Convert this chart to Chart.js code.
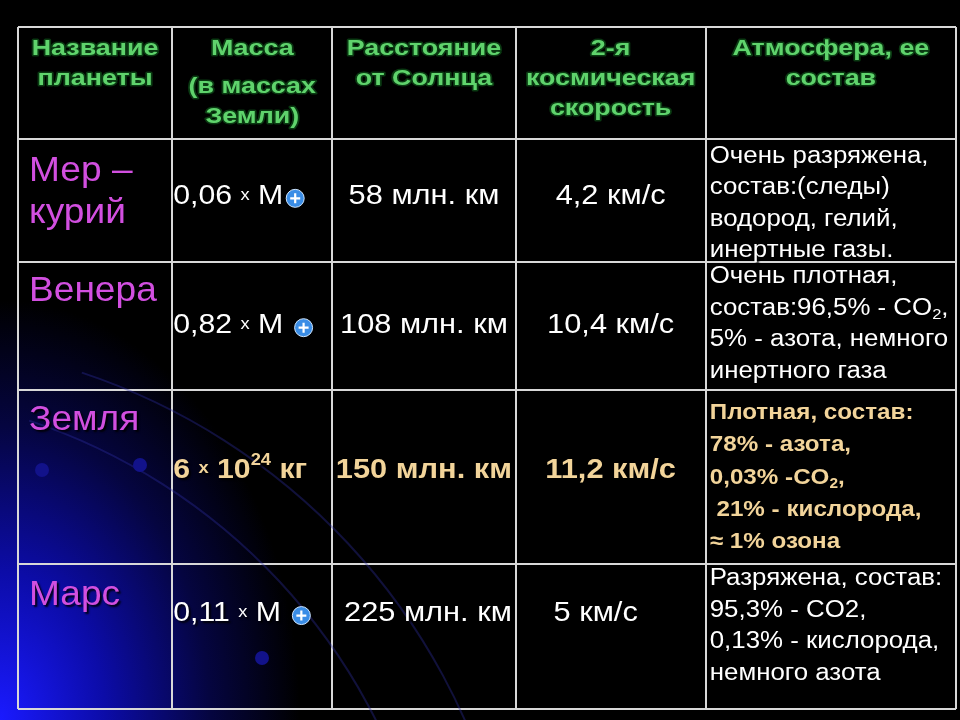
<!DOCTYPE html>
<html><head><meta charset="utf-8">
<script src="https://cdn.jsdelivr.net/npm/chart.js@4"></script>
<style>
html,body{margin:0;padding:0;width:960px;height:720px;overflow:hidden;
background:radial-gradient(ellipse 300px 420px at 0px 720px,#1a1aff 0%,#0c0ca8 35%,#050540 70%,#000 100%),#000;}
canvas{display:block}
</style></head><body>
<canvas id="c" width="960" height="720"></canvas>
<script>
// ---- data ----
const headers = [
  ["Название","планеты"],
  ["Масса","(в массах","Земли)"],
  ["Расстояние","от Солнца"],
  ["2-я","космическая","скорость"],
  ["Атмосфера, ее","состав"]
];
const planets = [["Мер –","курий"],["Венера"],["Земля"],["Марс"]];
const masses = ["0,06 {x} M{E}","0,82 {x} M {E}","6 {x} 10{^24} кг","0,11 {x} M {E}"];
const distances = ["58 млн. км","108 млн. км","150 млн. км","225 млн. км"];
const velocities = ["4,2 км/с","10,4 км/с","11,2 км/с","5 км/с"];
const atmospheres = [
  ["Очень разряжена,","состав:(следы)","водород, гелий,","инертные газы."],
  ["Очень плотная,","состав:96,5% - CO{_2},","5% - азота, немного","инертного газа"],
  ["Плотная, состав:","78% - азота,","0,03% -CO{_2},"," 21% - кислорода,","≈ 1% озона"],
  ["Разряжена, состав:","95,3% - CO2,","0,13% - кислорода,","немного азота"]
];
const colEdges = [0,154,314,497,687,937];
const rowEdges = [0,112,234,362,535,680];

const FF = '"Liberation Sans", Arial, sans-serif';
function segs(s){const out=[];const re=/\{([^}]*)\}/g;let last=0,m;
  while((m=re.exec(s))){if(m.index>last)out.push({t:s.slice(last,m.index),k:'n'});
    const v=m[1]; if(v==='x')out.push({t:'x',k:'x'});else if(v==='E')out.push({t:'',k:'E'});
    else if(v[0]==='^')out.push({t:v.slice(1),k:'sup'});else out.push({t:v.slice(1),k:'sub'});
    last=re.lastIndex;}
  if(last<s.length)out.push({t:s.slice(last),k:'n'});return out;}
function fontFor(k,size,bold){const b=bold?'bold ':'';
  if(k==='x'||k==='sup'||k==='sub')return b+Math.round(size*0.62)+'px '+FF;return b+size+'px '+FF;}
function measure(ctx,s,size,bold){let w=0;for(const g of segs(s)){
  if(g.k==='E'){w+=20;continue;}ctx.font=fontFor(g.k,size,bold);w+=ctx.measureText(g.t).width;}return w;}
function drawRich(ctx,s,x0,y,size,bold,color,align,sx){
  sx=sx||1;let w=measure(ctx,s,size,bold)*sx;if(align==='center')x0-=w/2;
  ctx.save();ctx.translate(x0,y);ctx.scale(sx,1);let x=0;
  ctx.textBaseline='middle';ctx.textAlign='left';
  for(const g of segs(s)){
    if(g.k==='E'){ctx.save();ctx.scale(1/sx,1);const ex=x*sx;ctx.shadowColor='transparent';ctx.beginPath();ctx.arc(ex+12,2,9,0,Math.PI*2);
      ctx.fillStyle='#3a8de6';ctx.fill();ctx.strokeStyle='#cfe6ff';ctx.lineWidth=1;ctx.stroke();
      ctx.strokeStyle='#fff';ctx.lineWidth=2.2;ctx.beginPath();ctx.moveTo(ex+7,2);ctx.lineTo(ex+17,2);
      ctx.moveTo(ex+12,-3);ctx.lineTo(ex+12,7);ctx.stroke();ctx.restore();x+=20;continue;}
    ctx.font=fontFor(g.k,size,bold);ctx.fillStyle=color;
    let dy=0;if(g.k==='sup')dy=-size*0.35;if(g.k==='sub')dy=size*0.3;if(g.k==='x')dy=-size*0.05;
    ctx.fillText(g.t,x,dy);x+=ctx.measureText(g.t).width;}
  ctx.restore();
}
function outlined(ctx,t,x,y,size,color,sx){ctx.save();ctx.translate(x,y);ctx.scale(sx,1);
  ctx.font='bold '+size+'px '+FF;ctx.textAlign='center';ctx.textBaseline='middle';
  ctx.lineJoin='round';ctx.lineWidth=3;ctx.strokeStyle='#0a3a12';ctx.strokeText(t,0,0);ctx.fillStyle=color;ctx.fillText(t,0,0);ctx.restore();}

const tablePlugin={id:'table',
  beforeDatasetsDraw(chart){const ctx=chart.ctx;
    ctx.save();ctx.strokeStyle='rgba(50,50,170,0.35)';ctx.lineWidth=2;
    [[-120,980,640],[-160,990,600]].forEach(o=>{ctx.beginPath();ctx.arc(o[0],o[1],o[2],-1.25,-0.25);ctx.stroke();});
    ctx.fillStyle='#12128a';[[42,470],[140,465],[262,658]].forEach(p=>{ctx.beginPath();ctx.arc(p[0],p[1],7,0,7);ctx.fill();});
    ctx.restore();},
  afterDraw(chart){const ctx=chart.ctx,xs=chart.scales.x,ys=chart.scales.y;
    const X=v=>xs.getPixelForValue(v),Y=v=>ys.getPixelForValue(v);
    ctx.save();
    const hy=[[22,52],[22,60,90],[22,52],[22,52,82],[22,52]];
    headers.forEach((h,i)=>{const cx=(X(colEdges[i])+X(colEdges[i+1]))/2;
      h.forEach((l,j)=>outlined(ctx,l,cx,Y(0)+hy[i][j],22,'#5fd36c',1.22));});
    ctx.shadowColor='rgba(0,0,0,0.9)';ctx.shadowOffsetX=2;ctx.shadowOffsetY=2;ctx.shadowBlur=2;
    const dataY=[57,64,80,50], nameY=[32,30,30,32];
    for(let r=0;r<4;r++){const top=Y(rowEdges[r+1]);const earth=r===2;
      const col=earth?'#f2d49a':'#ffffff';
      planets[r].forEach((l,j)=>{ctx.save();ctx.translate(X(colEdges[0])+11,top+nameY[r]+j*42);ctx.scale(1.06,1);
        ctx.font='35px '+FF;ctx.textAlign='left';ctx.textBaseline='middle';
        ctx.fillStyle='#d24fe0';ctx.fillText(l,0,0);ctx.restore();});
      const dy=top+dataY[r];
      drawRich(ctx,masses[r],X(colEdges[1])+1,dy,28,earth,col,'left',1.08);
      drawRich(ctx,distances[r],(X(colEdges[2])+X(colEdges[3]))/2+(r===3?4:0),dy,28,earth,col,'center',1.1);
      drawRich(ctx,velocities[r],(X(colEdges[3])+X(colEdges[4]))/2+(r===3?-15:0),dy,28,earth,col,'center',1.1);
      const a=atmospheres[r];const step=earth?32.3:31.5;const a0=earth?23:(r===0?17:15);
      a.forEach((l,j)=>drawRich(ctx,l,X(colEdges[4])+4,top+a0+j*step,earth?22:23.5,earth,col,'left',1.1));
    }
    ctx.restore();}
};
const gridOpts=(edges,rev)=>({type:'linear',min:edges[0],max:edges[edges.length-1],reverse:rev,
  afterBuildTicks:s=>{s.ticks=edges.map(v=>({value:v}));},
  ticks:{display:false},border:{display:false},
  grid:{color:'#d8d8d8',lineWidth:2,drawTicks:false}});
new Chart(document.getElementById('c'),{type:'scatter',
  data:{datasets:[{data:[]}]},
  options:{responsive:false,animation:false,devicePixelRatio:1,
    layout:{padding:{left:18,right:4,top:27,bottom:11}},
    plugins:{legend:{display:false},tooltip:{enabled:false}},
    scales:{x:gridOpts(colEdges,false),y:gridOpts(rowEdges,true)}},
  plugins:[tablePlugin]});
</script></body></html>
